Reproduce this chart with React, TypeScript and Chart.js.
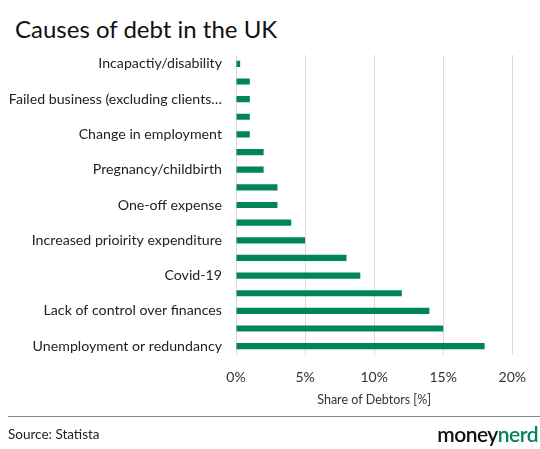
import { useEffect, useRef } from 'react'
import { Chart, registerables } from 'chart.js'

Chart.register(...registerables)

// Categories top to bottom; only every other one is labelled in the source
const categories = [
  'Incapactiy/disability',
  'Gambling',
  'Failed business (excluding clients…',
  'Addiction',
  'Change in employment',
  'Bereavement',
  'Pregnancy/childbirth',
  'Relationship breakdown',
  'One-off expense',
  'Irresponsible lending',
  'Increased prioirity expenditure',
  'Reduced income',
  'Covid-19',
  'Illness or injury',
  'Lack of control over finances',
  'Low income',
  'Unemployment or redundancy',
]
const shares = [0.3, 1, 1, 1, 1, 2, 2, 3, 3, 4, 5, 8, 9, 12, 14, 15, 18]
const xTicks = [0, 5, 10, 15, 20]

const FONT = 'Lato, "Open Sans", sans-serif'
const GREEN = '#00855a'

export default function App() {
  const canvasRef = useRef<HTMLCanvasElement>(null)
  const chartRef = useRef<Chart | null>(null)

  useEffect(() => {
    if (!canvasRef.current) return
    if (chartRef.current) chartRef.current.destroy()
    const ctx = canvasRef.current.getContext('2d')
    if (!ctx) return

    chartRef.current = new Chart(ctx, {
      type: 'bar',
      data: {
        labels: categories,
        datasets: [
          {
            label: 'Share of Debtors',
            data: shares,
            backgroundColor: GREEN,
            borderWidth: 0,
            barPercentage: 0.7,
            categoryPercentage: 0.5,
          },
        ],
      },
      options: {
        indexAxis: 'y',
        animation: false,
        responsive: true,
        maintainAspectRatio: false,
        layout: { padding: { left: 8, right: 27, top: 55, bottom: 40 } },
        plugins: {
          legend: { display: false },
          tooltip: { enabled: false },
        },
        scales: {
          x: {
            min: 0,
            max: 20,
            afterBuildTicks: (scale: any) => {
              scale.ticks = xTicks.map((v) => ({ value: v }))
            },
            afterFit: (scale: any) => {
              scale.height = 54
            },
            grid: { color: '#d9d9d9', drawTicks: false },
            border: { display: false },
            ticks: {
              padding: 14,
              maxRotation: 0,
              color: '#333333',
              font: { family: FONT, size: 14 },
              callback: (v: any) => v + '%',
            },
            title: {
              display: true,
              text: 'Share of Debtors [%]',
              color: '#333333',
              font: { family: FONT, size: 12.5 },
              padding: { top: 4, bottom: 2 },
            },
          },
          y: {
            afterFit: (scale: any) => {
              scale.width = 228
            },
            grid: { display: false, drawTicks: false },
            border: { display: false },
            ticks: {
              autoSkip: false,
              padding: 14,
              color: '#222222',
              font: { family: FONT, size: 14.2 },
              callback: (_v: any, i: number) => (i % 2 === 0 ? categories[i] : ''),
            },
          },
        },
      },
    })

    return () => {
      if (chartRef.current) chartRef.current.destroy()
    }
  }, [])

  return (
    <div
      style={{
        position: 'absolute',
        left: 0,
        top: 0,
        width: 540,
        height: 449,
        background: '#ffffff',
        fontFamily: FONT,
        overflow: 'hidden',
      }}
    >
      <div
        style={{
          position: 'absolute',
          left: 15,
          top: 13,
          fontSize: 24,
          color: '#111111',
          lineHeight: '32px',
          whiteSpace: 'nowrap',
        }}
      >
        Causes of debt in the UK
      </div>
      <div style={{ position: 'absolute', left: 0, top: 0, width: 540, height: 449 }}>
        <canvas ref={canvasRef} />
      </div>
      <div
        style={{
          position: 'absolute',
          left: 8,
          top: 416,
          width: 532,
          height: 1,
          background: '#8a8a8a',
        }}
      />
      <div
        style={{
          position: 'absolute',
          left: 8,
          top: 426,
          fontSize: 13.5,
          lineHeight: '16px',
          color: '#222222',
        }}
      >
        Source: Statista
      </div>
      <div
        style={{
          position: 'absolute',
          right: 2,
          top: 421,
          fontSize: 21,
          fontWeight: 600,
          letterSpacing: -0.5,
          lineHeight: '26px',
        }}
      >
        <span style={{ color: '#111111' }}>money</span>
        <span style={{ color: GREEN }}>nerd</span>
      </div>
    </div>
  )
}
